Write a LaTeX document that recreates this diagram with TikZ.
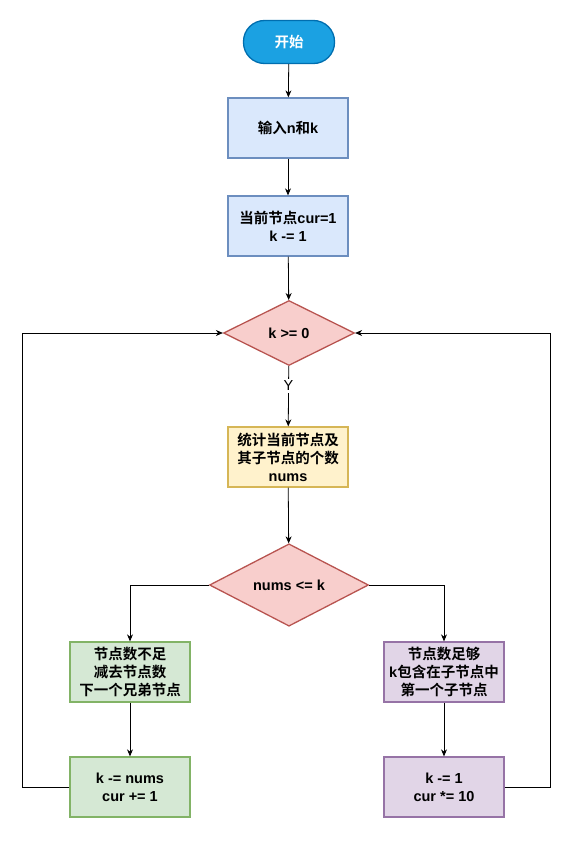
\documentclass[tikz,border=0pt]{standalone}
\usepackage{fontspec}
\setmainfont{Liberation Sans}
\newfontfamily\cjk{Noto Sans CJK SC}[BoldFont=* Bold]
\usetikzlibrary{positioning}
\usetikzlibrary{shapes.geometric}
\usetikzlibrary{arrows.meta}

\definecolor{startfill}{HTML}{1BA1E2}
\definecolor{startline}{HTML}{006EAF}
\definecolor{bluefill}{HTML}{DAE8FC}
\definecolor{blueline}{HTML}{6C8EBF}
\definecolor{redfill}{HTML}{F8CECC}
\definecolor{redline}{HTML}{B85450}
\definecolor{yellowfill}{HTML}{FFF2CC}
\definecolor{yellowline}{HTML}{D6B656}
\definecolor{greenfill}{HTML}{D5E8D4}
\definecolor{greenline}{HTML}{82B366}
\definecolor{purplefill}{HTML}{E1D5E7}
\definecolor{purpleline}{HTML}{9673A6}

\begin{document}
\begin{tikzpicture}[
    x=1pt, y=-1pt,
    font=\fontsize{14.5}{18}\selectfont\bfseries,
    startbox/.style={
        draw=startline,
        line width=1.3pt,
        fill=startfill,
        text=white,
        rounded corners=21pt,
        minimum width=91pt,
        minimum height=43pt
    },
    box/.style={
        draw,
        line width=1.3pt,
        minimum width=120pt,
        minimum height=60pt,
        inner sep=0pt,
        align=center
    },
    decision/.style={
        diamond,
        draw=redline,
        fill=redfill,
        line width=1.3pt,
        inner sep=0pt,
        align=center
    },
    arr/.style={
        -{Stealth[length=7pt,width=6pt]},
        line width=0.8pt
    }
]
\useasboundingbox (0,0) rectangle (583,843);

% Main nodes
\node[startbox] (start) at (289,42) {\cjk 开始};

\node[box, draw=blueline, fill=bluefill] (input) at (288,128) {\cjk 输入\rmfamily n\cjk 和\rmfamily k};

\node[box, draw=blueline, fill=bluefill] (init) at (288,226) {
    {\cjk 当前节点}cur=1 \\
    k -= 1
};

\node[decision, minimum width=131pt, minimum height=65pt] (loop) at (289,333) {k >= 0};

\node[box, draw=yellowline, fill=yellowfill] (count) at (288,457) {
    {\cjk 统计当前节点及} \\
    {\cjk 其子节点的个数} \\
    nums
};

\node[decision, minimum width=159pt, minimum height=80pt] (check) at (289,585) {nums <= k};

\node[box, draw=greenline, fill=greenfill] (few) at (130,672) {
    {\cjk 节点数不足} \\
    {\cjk 减去节点数} \\
    {\cjk 下一个兄弟节点}
};

\node[box, draw=greenline, fill=greenfill] (sibling) at (130,787) {
    k -= nums \\
    cur += 1
};

\node[box, draw=purpleline, fill=purplefill] (enough) at (444,672) {
    {\cjk 节点数足够} \\
    k{\cjk 包含在子节点中} \\
    {\cjk 第一个子节点}
};

\node[box, draw=purpleline, fill=purplefill] (child) at (444,787) {
    k -= 1 \\
    cur *= 10
};

% Loop corners
\coordinate (leftback) at (22,787);
\coordinate (rightback) at (550,787);

% Arrows
\draw[arr] (start) -- (input);
\draw[arr] (input) -- (init);
\draw[arr] (init) -- (loop);
\draw[arr] (loop) -- node[pos=0.33, fill=white, inner sep=2pt, font=\fontsize{14.5}{16}\selectfont] {Y} (count);
\draw[arr] (count) -- (check);
\draw[arr] (check.west) -| (few.north);
\draw[arr] (check.east) -| (enough.north);
\draw[arr] (few) -- (sibling);
\draw[arr] (enough) -- (child);
\draw[arr] (sibling.west) -- (leftback) |- (loop.west);
\draw[arr] (child.east) -- (rightback) |- (loop.east);

\end{tikzpicture}
\end{document}
